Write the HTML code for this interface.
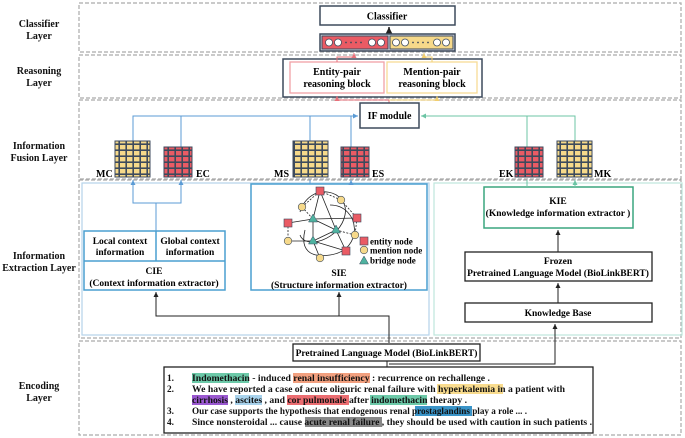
<!DOCTYPE html>
<html><head><meta charset="utf-8"><style>
html,body{margin:0;padding:0;background:#fff;}
svg{display:block;font-family:"Liberation Serif",serif;font-weight:bold;}
</style></head><body>
<svg width="685" height="438" viewBox="0 0 685 438" xmlns="http://www.w3.org/2000/svg">
<defs>
<marker id="ak" markerWidth="6" markerHeight="6" refX="5" refY="3" orient="auto"><path d="M0,0.5L5,3L0,5.5z" fill="#222"/></marker>
<marker id="ab" markerWidth="6" markerHeight="6" refX="5" refY="3" orient="auto"><path d="M0,0.5L5,3L0,5.5z" fill="#5b9bd5"/></marker>
<marker id="ag" markerWidth="6" markerHeight="6" refX="5" refY="3" orient="auto"><path d="M0,0.5L5,3L0,5.5z" fill="#6cc4a4"/></marker>
<marker id="ar" markerWidth="6" markerHeight="6" refX="5" refY="3" orient="auto"><path d="M0,0.5L5,3L0,5.5z" fill="#e8707a"/></marker>
<marker id="ay" markerWidth="6" markerHeight="6" refX="5" refY="3" orient="auto"><path d="M0,0.5L5,3L0,5.5z" fill="#f2cf70"/></marker>
<pattern id="gy" width="7" height="6" patternUnits="userSpaceOnUse" x="0" y="0"><rect width="7" height="6" fill="#3d4a5c"/><rect x="1" y="1" width="5.4" height="4.4" fill="#f6d98a"/></pattern>
<pattern id="gr" width="7" height="6" patternUnits="userSpaceOnUse"><rect width="7" height="6" fill="#3d4a5c"/><rect x="1" y="1" width="5.4" height="4.4" fill="#ea5b64"/></pattern>
</defs>

<g fill="none" stroke="#aaa" stroke-dasharray="4,2" stroke-width="1.2">
<rect x="79" y="3" width="602" height="49"/>
<rect x="79" y="55" width="602" height="43"/>
<rect x="79" y="100" width="602" height="79"/>
<rect x="79" y="180" width="602" height="158"/>
<rect x="79" y="341" width="602" height="94"/>
</g>
<g font-size="10" text-anchor="middle" fill="#111">
<text x="39" y="27">Classifier</text><text x="39" y="39">Layer</text>
<text x="39" y="74">Reasoning</text><text x="39" y="86">Layer</text>
<text x="39" y="149">Information</text><text x="39" y="161">Fusion Layer</text>
<text x="39" y="259">Information</text><text x="39" y="271">Extraction Layer</text>
<text x="39" y="389">Encoding</text><text x="39" y="401">Layer</text>
</g>

<rect x="320" y="6" width="135" height="19" fill="#fff" stroke="#3d4a5c" stroke-width="1.5"/>
<text x="387" y="19.5" font-size="10" text-anchor="middle">Classifier</text>
<path d="M389 33V27" stroke="#222" stroke-width="1.5" marker-end="url(#ak)"/>
<rect x="320" y="34" width="135" height="17" fill="#d7dbe2" stroke="#3d4a5c" stroke-width="1.5"/>
<rect x="322" y="36" width="66" height="13" fill="#ea5b64" stroke="#3d4a5c"/>
<rect x="390" y="36" width="63" height="13" fill="#f6d98a" stroke="#3d4a5c"/>
<g fill="#fff" stroke="#3d4a5c" stroke-width="0.8">
<circle cx="329" cy="42.5" r="3.5"/><circle cx="338" cy="42.5" r="3.5"/><circle cx="372" cy="42.5" r="3.5"/><circle cx="381" cy="42.5" r="3.5"/>
<circle cx="396" cy="42.5" r="3.5"/><circle cx="405" cy="42.5" r="3.5"/><circle cx="437" cy="42.5" r="3.5"/><circle cx="446" cy="42.5" r="3.5"/>
</g>
<g fill="#3d4a5c"><circle cx="346" cy="42.5" r="0.9"/><circle cx="351" cy="42.5" r="0.9"/><circle cx="356" cy="42.5" r="0.9"/><circle cx="361" cy="42.5" r="0.9"/>
<circle cx="413" cy="42.5" r="0.9"/><circle cx="418" cy="42.5" r="0.9"/><circle cx="423" cy="42.5" r="0.9"/><circle cx="428" cy="42.5" r="0.9"/></g>

<rect x="283" y="59" width="199" height="38" fill="#fff" stroke="#3d4a5c" stroke-width="1.5"/>
<rect x="290" y="62" width="94" height="31" fill="#fff" stroke="#f0a0a6" stroke-width="1.3"/>
<rect x="387" y="62" width="90" height="31" fill="#fff" stroke="#f7dc96" stroke-width="1.3"/>
<g font-size="10" text-anchor="middle">
<text x="337" y="75">Entity-pair</text><text x="337" y="87">reasoning block</text>
<text x="432" y="75">Mention-pair</text><text x="432" y="87">reasoning block</text>
</g>
<path d="M337 62V57H354V53" fill="none" stroke="#e8707a" marker-end="url(#ar)"/>
<path d="M432 62V57H424V53" fill="none" stroke="#f2cf70" marker-end="url(#ay)"/>
<path d="M389 103V100H337V96" fill="none" stroke="#e8707a" marker-end="url(#ar)"/>
<path d="M389 100H437V96" fill="none" stroke="#f2cf70" marker-end="url(#ay)"/>

<rect x="360" y="103" width="59" height="25" fill="#fff" stroke="#3d4a5c" stroke-width="1.5"/>
<text x="389.5" y="119" font-size="10" text-anchor="middle">IF module</text>
<path d="M133 141V116H358" fill="none" stroke="#5b9bd5" marker-end="url(#ab)"/>
<path d="M181 147V116M310 141V116M351 147V116" fill="none" stroke="#5b9bd5"/>
<path d="M575 141V116H421" fill="none" stroke="#6cc4a4" marker-end="url(#ag)"/>
<path d="M527 147V116" fill="none" stroke="#6cc4a4"/>

<rect x="115" y="141" width="35" height="36" fill="url(#gy)" stroke="#3d4a5c"/>
<rect x="164" y="147" width="28" height="30" fill="url(#gr)" stroke="#3d4a5c"/>
<rect x="293" y="141" width="35" height="36" fill="url(#gy)" stroke="#3d4a5c"/>
<rect x="341" y="147" width="28" height="30" fill="url(#gr)" stroke="#3d4a5c"/>
<rect x="515" y="147" width="28" height="30" fill="url(#gr)" stroke="#3d4a5c"/>
<rect x="557" y="141" width="35" height="36" fill="url(#gy)" stroke="#3d4a5c"/>
<g font-size="10">
<text x="96" y="177">MC</text><text x="196" y="177">EC</text>
<text x="274" y="177">MS</text><text x="372" y="177">ES</text>
<text x="499" y="177">EK</text><text x="594" y="177">MK</text>
</g>

<rect x="82" y="183" width="347" height="152" fill="none" stroke="#b5d3ea" stroke-width="1.2"/>
<rect x="434" y="183" width="248" height="152" fill="none" stroke="#bfe6dc" stroke-width="1.2"/>

<rect x="84" y="231" width="141" height="59" fill="#fff" stroke="#4a9fd0" stroke-width="1.5"/>
<path d="M84 261H225M156 231V261" stroke="#4a9fd0" stroke-width="1.5"/>
<g font-size="9.5" text-anchor="middle">
<text x="120" y="244">Local context</text><text x="120" y="255">information</text>
<text x="190" y="244">Global context</text><text x="190" y="255">information</text>
<text x="154" y="274">CIE</text><text x="154" y="286">(Context information extractor)</text>
</g>
<path d="M156 231V203H133V180" fill="none" stroke="#5b9bd5" marker-end="url(#ab)"/>
<path d="M156 203H181V180" fill="none" stroke="#5b9bd5" marker-end="url(#ab)"/>

<rect x="251" y="184" width="176" height="106" fill="#fff" stroke="#4a9fd0" stroke-width="1.5"/>
<path d="M310 184V180M351 184V180" stroke="#5b9bd5" marker-end="url(#ab)"/>
<text x="339" y="276" font-size="9.5" text-anchor="middle">SIE</text>
<text x="339" y="288" font-size="9.5" text-anchor="middle">(Structure information extractor)</text>
<g stroke="#222" stroke-width="0.8" fill="none">
<path d="M320 191L313 219M320 191L336 230M313 219L357 218M313 219L336 230M313 219L313 241M336 230L313 241M288 223L313 219M336 230L346 251M313 241L346 251M288 241L313 241M313 241L320 258" marker-end="url(#ak)"/>
<path d="M320 191L341 200M302 207L320 191M341 200L357 218M357 218L355 235M288 223L288 241M355 235L336 230M302 207L313 219" stroke-dasharray="2,1.5"/>
<path d="M300 212C310 180 350 190 345 215C340 240 305 250 300 235M330 205C360 205 365 250 330 255C310 258 300 250 305 230"/>
</g>
<g fill="#ea5b64" stroke="#3d4a5c" stroke-width="0.6">
<rect x="316" y="187" width="8" height="8"/><rect x="353" y="214" width="8" height="8"/><rect x="284" y="219" width="8" height="8"/><rect x="342" y="247" width="8" height="8"/>
<rect x="360" y="237" width="8" height="8"/>
</g>
<g fill="#f6d98a" stroke="#3d4a5c" stroke-width="0.6">
<circle cx="302" cy="207" r="3.8"/><circle cx="341" cy="200" r="3.8"/><circle cx="355" cy="235" r="3.8"/><circle cx="288" cy="241" r="3.8"/><circle cx="320" cy="258" r="3.8"/>
<circle cx="364" cy="250" r="3.8"/>
</g>
<g fill="#4fb3a0" stroke="#3d4a5c" stroke-width="0.5">
<path d="M313 214L317.5 222H308.5z"/><path d="M336 225L340.5 233H331.5z"/><path d="M313 236L317.5 244H308.5z"/><path d="M364 256L368.5 264H359.5z"/>
</g>
<g font-size="9">
<text x="370" y="244.5">entity node</text><text x="370" y="253.5">mention node</text><text x="370" y="263.5">bridge node</text>
</g>

<rect x="484" y="187" width="149" height="41" fill="#fff" stroke="#3aa57f" stroke-width="1.5"/>
<text x="558" y="204" font-size="9.5" text-anchor="middle">KIE</text>
<text x="558" y="216" font-size="9.5" text-anchor="middle">(Knowledge information extractor )</text>
<path d="M527 187V180M575 187V180" stroke="#6cc4a4" marker-end="url(#ag)"/>
<rect x="465" y="252" width="187" height="29" fill="#fff" stroke="#222" stroke-width="1.3"/>
<text x="558" y="264" font-size="9.5" text-anchor="middle">Frozen</text>
<text x="558" y="276" font-size="9.5" text-anchor="middle">Pretrained Language Model (BioLinkBERT)</text>
<rect x="465" y="303" width="187" height="19" fill="#fff" stroke="#222" stroke-width="1.3"/>
<text x="558" y="316" font-size="9.5" text-anchor="middle">Knowledge Base</text>
<path d="M558 252V230" stroke="#222" marker-end="url(#ak)"/>
<path d="M558 303V283" stroke="#222" marker-end="url(#ak)"/>
<path d="M389 364H555V324" fill="none" stroke="#222" marker-end="url(#ak)"/>

<path d="M389 343V316H156V292" fill="none" stroke="#222" marker-end="url(#ak)"/>
<path d="M339 316V292" fill="none" stroke="#222" marker-end="url(#ak)"/>
<rect x="293" y="344" width="187" height="17" fill="#fff" stroke="#222" stroke-width="1.3"/>
<text x="386.5" y="356" font-size="9.5" text-anchor="middle">Pretrained Language Model (BioLinkBERT)</text>
<path d="M387 361V367" stroke="#222"/>
<rect x="164" y="367" width="429" height="66" fill="#fff" stroke="#222" stroke-width="1.3"/>
<rect x="192" y="373" width="57" height="10" fill="#6cc9a8"/>
<rect x="293" y="373" width="77" height="10" fill="#f2a07f"/>
<rect x="437" y="384" width="66" height="10" fill="#f9dc8e"/>
<rect x="192" y="395" width="36" height="10" fill="#9a58d0"/>
<rect x="235" y="395" width="27" height="10" fill="#a8d2ec"/>
<rect x="287" y="395" width="62" height="10" fill="#ec6d71"/>
<rect x="370" y="395" width="57" height="10" fill="#6cc9a8"/>
<rect x="415" y="406" width="57" height="10" fill="#3a94c8"/>
<rect x="305" y="417" width="77" height="10" fill="#888"/>
<g font-size="9.3" fill="#111">
<text x="167" y="381">1.</text><text x="167" y="392">2.</text><text x="167" y="414">3.</text><text x="167" y="425">4.</text>
<text x="192" y="381" textLength="298" lengthAdjust="spacingAndGlyphs">Indomethacin - induced renal insufficiency : recurrence on rechallenge .</text>
<text x="192" y="392" textLength="373" lengthAdjust="spacingAndGlyphs">We have reported a case of acute oliguric renal failure with hyperkalemia in a patient with</text>
<text x="192" y="403" textLength="275" lengthAdjust="spacingAndGlyphs">cirrhosis , ascites , and cor pulmonale after indomethacin therapy .</text>
<text x="192" y="414" textLength="335" lengthAdjust="spacingAndGlyphs">Our case supports the hypothesis that endogenous renal prostaglandins play a role ... .</text>
<text x="192" y="425" textLength="400" lengthAdjust="spacingAndGlyphs">Since nonsteroidal ... cause acute renal failure , they should be used with caution in such patients .</text>
</g>
</svg>
</body></html>
